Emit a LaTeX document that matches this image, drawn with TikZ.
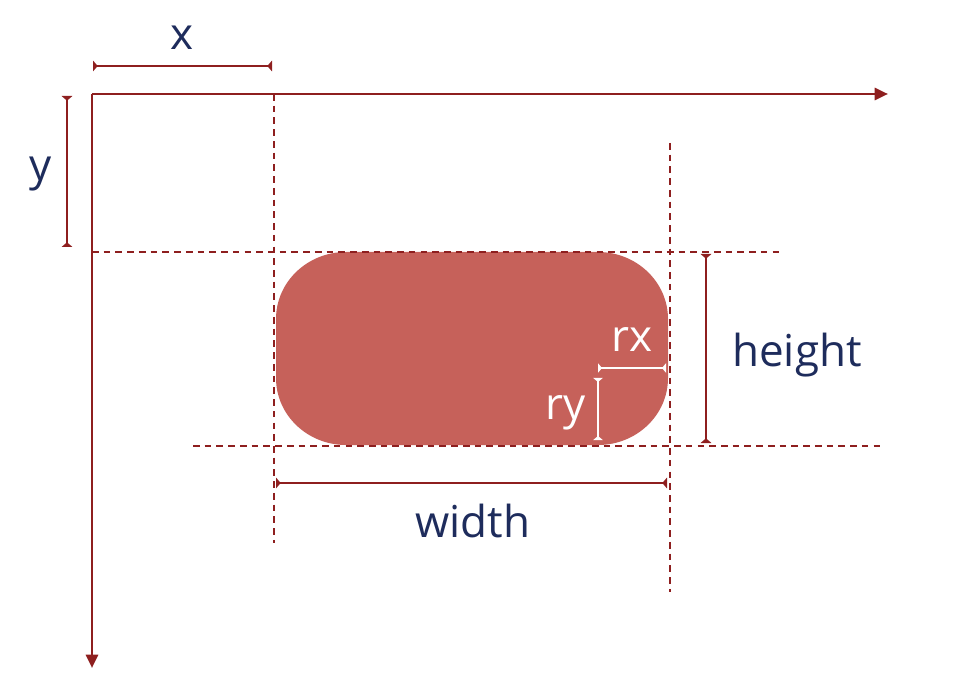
\documentclass[tikz,border=0pt]{standalone}
\usepackage{fontspec}
\setmainfont{Open Sans}
\usetikzlibrary{arrows.meta}
\definecolor{dred}{HTML}{8E1F1F}
\definecolor{fillred}{HTML}{C6615A}
\definecolor{navy}{HTML}{1E2C5C}
\tikzset{
  axisline/.style={draw=dred,line width=2.1pt,-{Triangle[length=10pt,width=9pt]}},
  dimline/.style={draw=dred,line width=2.1pt,{Triangle[reversed,length=3.5pt,width=8pt]}-{Triangle[reversed,length=3.5pt,width=8pt]}},
  whitedim/.style={draw=white,line width=1.6pt,{Triangle[reversed,length=3pt,width=7pt]}-{Triangle[reversed,length=3pt,width=7pt]}},
  guide/.style={draw=dred,line width=1.8pt,dash pattern=on 5pt off 3.8pt},
  lbl/.style={text=navy,font=\fontsize{33}{40}\selectfont,anchor=base,inner sep=0pt},
  wlbl/.style={text=white,font=\fontsize{33}{40}\selectfont,anchor=base,inner sep=0pt}
}
\begin{document}
\begin{tikzpicture}[x=0.75pt,y=-0.75pt]
\useasboundingbox (0,0) rectangle (978,698);
% key points
\coordinate (O) at (92,94);
\coordinate (xend) at (888,94);
\coordinate (yend) at (92,668);
% rounded rectangle
\fill[fillred] (346,252) -- (598,252) .. controls (636.7,252) and (668,282) .. (668,319)
  -- (668,378) .. controls (668,415) and (636.7,445) .. (598,445)
  -- (346,445) .. controls (307.3,445) and (276,415) .. (276,378)
  -- (276,319) .. controls (276,282) and (307.3,252) .. (346,252) -- cycle;
% guides
\coordinate (g1a) at (274,94);  \coordinate (g1b) at (274,543);
\coordinate (g2a) at (670,143); \coordinate (g2b) at (670,592);
\coordinate (g3a) at (92,252);  \coordinate (g3b) at (783,252);
\coordinate (g4a) at (193,446); \coordinate (g4b) at (884,446);
\draw[guide] (g1a) -- (g1b);
\draw[guide] (g2a) -- (g2b);
\draw[guide] (g3a) -- (g3b);
\draw[guide] (g4a) -- (g4b);
% axes
\draw[axisline] (O) -- (xend);
\draw[axisline] (O) -- (yend);
% dimensions
\coordinate (xa) at (93,66);   \coordinate (xb) at (272,66);
\coordinate (ya) at (67,96);   \coordinate (yb) at (67,247);
\coordinate (wa) at (276,483); \coordinate (wb) at (667,483);
\coordinate (ha) at (706,254); \coordinate (hb) at (706,443);
\draw[dimline] (xa) -- (xb);
\draw[dimline] (ya) -- (yb);
\draw[dimline] (wa) -- (wb);
\draw[dimline] (ha) -- (hb);
\coordinate (rxa) at (598,368); \coordinate (rxb) at (666,368);
\coordinate (rya) at (598,378); \coordinate (ryb) at (598,440);
\draw[whitedim] (rxa) -- (rxb);
\draw[whitedim] (rya) -- (ryb);
% labels
\node[lbl] (lx) at (182,50) {x};
\node[lbl] (ly) at (41,181) {y};
\node[lbl] (lw) at (473,537) {width};
\node[lbl] (lh) at (797,367) {height};
\node[wlbl] (lrx) at (632,352) {rx};
\node[wlbl] (lry) at (566,420) {ry};
\end{tikzpicture}
\end{document}
